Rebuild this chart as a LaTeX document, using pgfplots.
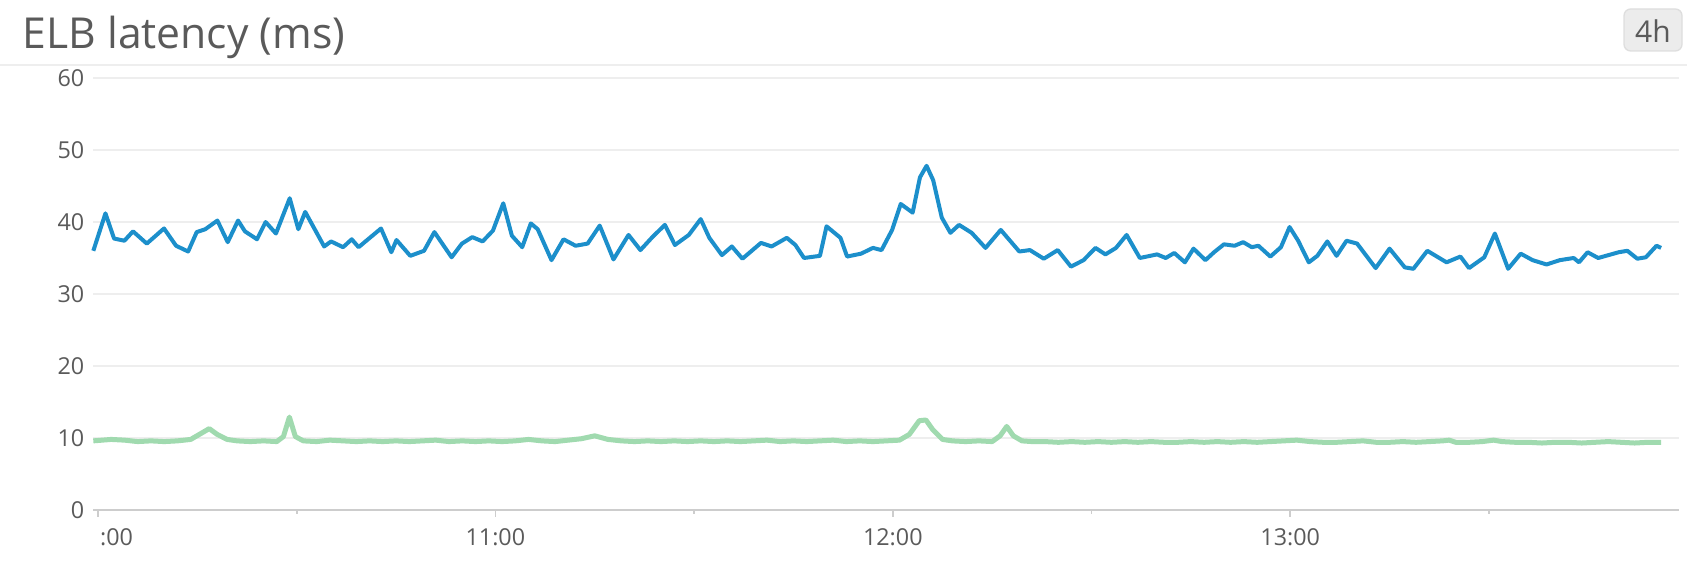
\documentclass[border=0pt]{standalone}
\usepackage{fontspec}
\setmainfont{Open Sans}
\usepackage{pgfplots}
\pgfplotsset{compat=1.18}
\definecolor{bluel}{RGB}{28,143,203}
\definecolor{greenl}{RGB}{160,218,175}
\definecolor{gridc}{RGB}{238,238,238}
\definecolor{axc}{RGB}{205,205,205}
\definecolor{txt}{RGB}{90,90,90}
\definecolor{btnfill}{RGB}{236,236,236}
\definecolor{btndraw}{RGB}{222,222,222}
\begin{document}
\begin{tikzpicture}
\path[use as bounding box] (0pt,0pt) rectangle (508.2pt,172.8pt);
\node[anchor=base west, inner sep=0pt, text=txt, font=\fontsize{12.8}{15}\selectfont] at (6.6pt,158.1pt) {ELB latency (ms)};
\draw[gridc, line width=0.6pt] (0pt,153.3pt) -- (506pt,153.3pt);
\draw[btndraw, fill=btnfill, rounded corners=2pt, line width=0.4pt] (487.2pt,157.5pt) rectangle (504.6pt,170.1pt);
\node[text=txt, font=\fontsize{9}{11}\selectfont, inner sep=0pt] at (495.9pt,163.6pt) {4h};
\begin{axis}[
  at={(27.9pt,19.8pt)}, anchor=south west,
  scale only axis, width=475.8pt, height=129.6pt,
  xmin=-0.75, xmax=238.7, ymin=0, ymax=60,
  ytick={0,10,20,30,40,50,60},
  xtick={60,120,180}, xticklabels={11:00,12:00,13:00},
  extra x ticks={0}, extra x tick labels={:00},
  extra x tick style={xticklabel style={anchor=north west, xshift=-2.9pt}},
  minor xtick={30,90,150,210},
  axis x line*=bottom, axis y line*=left, separate axis lines,
  x axis line style={draw=axc, line width=0.8pt},
  y axis line style={draw=none},
  ymajorgrids, major grid style={draw=gridc, line width=0.7pt},
  tick align=outside, major tick length=2pt, minor tick length=1.2pt,
  xtick style={draw=axc, line width=0.5pt},
  ytick style={draw=none},
  ticklabel style={font=\fontsize{7}{8}\selectfont, text=txt},
  yticklabel style={inner sep=0.4pt},
  /pgf/number format/assume math mode=true,
  clip=false,
]
\addplot[greenl, line width=1.5pt, line join=round] coordinates {
(-0.7,9.6) (2,9.8) (4,9.7) (6,9.5) (8,9.6) (10,9.5) (12,9.6) (14,9.8) (15.5,10.6) (16.8,11.3) (18,10.5) (19.5,9.8) (21,9.6) (23,9.5) (25,9.6) (27,9.5) (28,10.2) (28.9,12.9) (29.8,10.2) (31,9.6) (33,9.5) (35,9.7) (37,9.6) (39,9.5) (41,9.6) (43,9.5) (45,9.6) (47,9.5) (49,9.6) (51,9.7) (53,9.5) (55,9.6) (57,9.5) (59,9.6) (61,9.5) (63,9.6) (65,9.8) (67,9.6) (69,9.5) (71,9.7) (73,9.9) (75,10.3) (77,9.8) (79,9.6) (81,9.5) (83,9.6) (85,9.5) (87,9.6) (89,9.5) (91,9.6) (93,9.5) (95,9.6) (97,9.5) (99,9.6) (101,9.7) (103,9.5) (105,9.6) (107,9.5) (109,9.6) (111,9.7) (113,9.5) (115,9.6) (117,9.5) (119,9.6) (121,9.7) (122.5,10.5) (124,12.4) (125,12.5) (126,11.2) (127.5,9.8) (129,9.6) (131,9.5) (133,9.6) (135,9.5) (136.2,10.3) (137.2,11.6) (138.2,10.3) (139.5,9.6) (141,9.5) (143,9.5) (145,9.4) (147,9.5) (149,9.4) (151,9.5) (153,9.4) (155,9.5) (157,9.4) (159,9.5) (161,9.4) (163,9.4) (165,9.5) (167,9.4) (169,9.5) (171,9.4) (173,9.5) (175,9.4) (177,9.5) (179,9.6) (181,9.7) (183,9.5) (185,9.4) (187,9.4) (189,9.5) (191,9.6) (193,9.4) (195,9.4) (197,9.5) (199,9.4) (201,9.5) (203,9.6) (204,9.7) (205,9.4) (207,9.4) (209,9.5) (210.7,9.7) (212,9.5) (214,9.4) (216,9.4) (218,9.3) (220,9.4) (222,9.4) (224,9.3) (226,9.4) (228,9.5) (230,9.4) (232,9.3) (234,9.4) (236,9.4)
};
\addplot[bluel, line width=1.2pt, line join=round] coordinates {
(-0.7,36.0) (1.13,41.2) (2.43,37.7) (3.99,37.4) (5.29,38.7) (7.37,37.0) (9.97,39.1) (11.79,36.7) (13.61,35.9) (14.91,38.6) (16.21,39.0) (18.03,40.2) (19.59,37.2) (21.15,40.2) (22.19,38.7) (24.01,37.6) (25.31,40.0) (26.87,38.4) (28.95,43.3) (30.25,39.0) (31.29,41.4) (34.15,36.6) (35.19,37.3) (37.01,36.5) (38.31,37.6) (39.35,36.5) (42.73,39.1) (44.29,35.8) (45.07,37.5) (47.15,35.3) (49.23,36.0) (50.79,38.6) (53.39,35.1) (54.95,37.0) (56.51,37.9) (58.07,37.3) (59.63,38.8) (61.19,42.6) (62.49,38.1) (64.05,36.5) (65.35,39.8) (66.39,39.0) (68.47,34.7) (70.29,37.6) (72.11,36.7) (73.93,37.0) (75.75,39.5) (77.83,34.8) (80.1,38.2) (81.9,36.1) (83.8,38.0) (85.6,39.6) (87.1,36.8) (89.2,38.2) (91.0,40.4) (92.3,37.8) (94.2,35.4) (95.7,36.6) (97.3,34.9) (100.1,37.1) (101.7,36.6) (104.0,37.8) (105.3,36.8) (106.6,35.0) (109.0,35.3) (110.0,39.4) (112.1,37.8) (113.1,35.2) (115.2,35.6) (117.0,36.4) (118.3,36.1) (119.9,38.9) (121.2,42.5) (123.0,41.3) (124.1,46.2) (125.1,47.8) (126.1,45.8) (127.4,40.6) (128.7,38.5) (130.0,39.6) (131.9,38.5) (134.0,36.4) (136.3,38.9) (139.1,35.9) (140.7,36.1) (142.8,34.9) (144.9,36.1) (146.9,33.8) (148.8,34.7) (150.6,36.4) (152.1,35.5) (153.7,36.4) (155.3,38.2) (157.3,35.0) (159.9,35.5) (161.2,35.0) (162.5,35.7) (164.1,34.4) (165.4,36.3) (167.2,34.7) (168.5,35.8) (170.0,36.9) (171.6,36.7) (172.9,37.2) (174.2,36.5) (175.2,36.7) (177.0,35.2) (178.6,36.5) (179.9,39.3) (181.2,37.4) (182.8,34.4) (184.1,35.3) (185.6,37.3) (187.0,35.3) (188.5,37.4) (190.1,37.0) (192.9,33.6) (195.0,36.3) (197.3,33.7) (198.6,33.5) (200.7,36.0) (203.6,34.4) (205.7,35.2) (207.0,33.6) (209.3,35.1) (210.9,38.4) (212.9,33.5) (214.8,35.6) (216.6,34.7) (218.7,34.1) (220.7,34.7) (222.8,35.0) (223.6,34.4) (224.9,35.8) (226.5,35.0) (229.6,35.8) (230.9,36.0) (232.4,34.9) (233.7,35.1) (235.3,36.7) (236.0,36.4)
};
\end{axis}
\end{tikzpicture}
\end{document}
